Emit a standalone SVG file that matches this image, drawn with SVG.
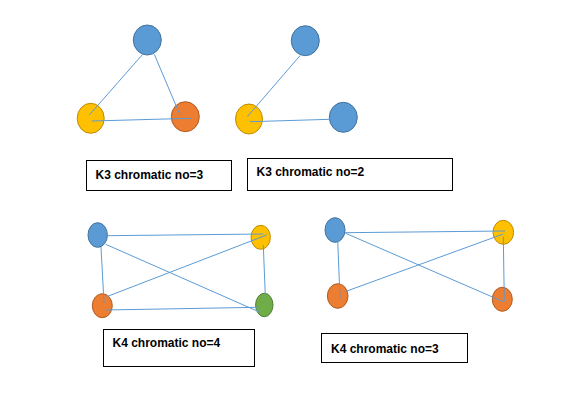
<svg xmlns="http://www.w3.org/2000/svg" width="569" height="403" viewBox="0 0 569 403">
<style>
.e{stroke:#5B9BD5;stroke-width:1;fill:none}
.b{fill:#5B9BD5;stroke:#41719C;stroke-width:1}
.o{fill:#ED7D31;stroke:#AE5A21;stroke-width:1}
.y{fill:#FFC000;stroke:#BC8C00;stroke-width:1}
.g{fill:#70AD47;stroke:#507E32;stroke-width:1}
.box{fill:#fff;stroke:#000;stroke-width:1}
.t{font-family:"Liberation Sans",Arial,sans-serif;font-size:12px;font-weight:bold;fill:#000}
</style>
<rect width="569" height="403" fill="#fff"/>
<g id="n1"><ellipse class="b" cx="147.3" cy="40" rx="14" ry="15"/></g>
<g id="n2"><ellipse class="y" cx="90.7" cy="118.3" rx="13.5" ry="15"/></g>
<g id="n3"><ellipse class="o" cx="185.3" cy="116.7" rx="14" ry="15"/></g>
<g id="n4"><ellipse class="b" cx="305.3" cy="40.7" rx="14" ry="15"/></g>
<g id="n5"><ellipse class="y" cx="249" cy="119" rx="13.5" ry="15"/></g>
<g id="n6"><ellipse class="b" cx="343.3" cy="117.3" rx="14" ry="15"/></g>
<g id="n7"><ellipse class="b" cx="97.7" cy="235" rx="9.7" ry="12.3"/></g>
<g id="n8"><ellipse class="y" cx="260.7" cy="237.3" rx="9.7" ry="12"/></g>
<g id="n9"><ellipse class="o" cx="102.3" cy="305.7" rx="10" ry="12"/></g>
<g id="n10"><ellipse class="g" cx="264.3" cy="305" rx="8.7" ry="11.7"/></g>
<g id="n11"><ellipse class="b" cx="335" cy="230" rx="10" ry="12.3"/></g>
<g id="n12"><ellipse class="y" cx="503.3" cy="232.3" rx="10.3" ry="12"/></g>
<g id="n13"><ellipse class="o" cx="337.7" cy="296" rx="10.3" ry="12.3"/></g>
<g id="n14"><ellipse class="o" cx="502.3" cy="299.3" rx="10" ry="12"/></g>
<g id="connectors">
<line class="e" x1="142.7" y1="54.3" x2="89.3" y2="115"/>
<line class="e" x1="154.3" y1="54.3" x2="180" y2="115"/>
<line class="e" x1="91.7" y1="121" x2="191.7" y2="118.3"/>
<line class="e" x1="300" y1="55.7" x2="247.3" y2="116.7"/>
<line class="e" x1="250" y1="121.7" x2="330" y2="119.3"/>
<line class="e" x1="107.3" y1="235.7" x2="263.3" y2="234"/>
<line class="e" x1="101" y1="247" x2="104" y2="303"/>
<line class="e" x1="105.7" y1="244.3" x2="260" y2="312.3"/>
<line class="e" x1="266.7" y1="235" x2="106.7" y2="296.7"/>
<line class="e" x1="263.3" y1="245" x2="265.7" y2="305"/>
<line class="e" x1="105" y1="310" x2="258.3" y2="307.3"/>
<line class="e" x1="345" y1="232.7" x2="505" y2="231"/>
<line class="e" x1="337.7" y1="240" x2="340" y2="298.3"/>
<line class="e" x1="345.7" y1="233.3" x2="503.3" y2="301.7"/>
<line class="e" x1="503.3" y1="234" x2="345" y2="291.7"/>
<line class="e" x1="503.3" y1="236.7" x2="504.3" y2="301.7"/>
</g>
<g id="label1"><rect class="box" x="86.5" y="160.5" width="145" height="30"/><text class="t" x="95.5" y="178.5">K3 chromatic no=3</text></g>
<g id="label2"><rect class="box" x="247.5" y="158.5" width="205" height="32"/><text class="t" x="256.5" y="175.5">K3 chromatic no=2</text></g>
<g id="label3"><rect class="box" x="103.5" y="329.5" width="151" height="37"/><text class="t" x="112.5" y="346.5">K4 chromatic no=4</text></g>
<g id="label4"><rect class="box" x="321.5" y="333.5" width="146" height="29"/><text class="t" x="331" y="353">K4 chromatic no=3</text></g>
</svg>
